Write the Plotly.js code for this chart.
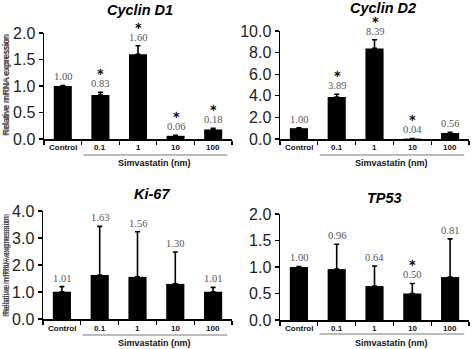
<!DOCTYPE html>
<html><head><meta charset="utf-8">
<script src="https://cdn.plot.ly/plotly-3.0.1.min.js"></script>
<style>html,body{margin:0;padding:0;background:#fff}#c{width:474px;height:349px}</style>
</head><body><div id="c"></div>
<script>
var categories = ["Control", "0.1", "1", "10", "100"];
var titles = ["Cyclin D1", "Cyclin D2", "Ki-67", "TP53"];
var d1Values = [1.00, 0.83, 1.60, 0.06, 0.18];
var d1Errors = [0.01, 0.05, 0.16, 0.01, 0.02];
var d1Sig = [false, true, true, true, true];
var d2Values = [1.00, 3.89, 8.39, 0.04, 0.56];
var d2Errors = [0.04, 0.25, 0.80, 0.01, 0.05];
var d2Sig = [false, true, true, true, false];
var kiValues = [1.01, 1.63, 1.56, 1.30, 1.01];
var kiErrors = [0.19, 1.80, 1.67, 1.18, 0.16];
var kiSig = [false, false, false, false, false];
var tpValues = [1.00, 0.96, 0.64, 0.50, 0.81];
var tpErrors = [0.01, 0.47, 0.38, 0.19, 0.72];
var tpSig = [false, false, false, true, false];
var yRanges = [[0, 2], [0, 10], [0, 4], [0, 2]];
var yDtick = [0.5, 2, 1, 0.5];

var panels = [
  {v: d1Values, e: d1Errors, s: d1Sig, x: [44, 232], y: [33, 139], title: [140, 10], cat: 147, line: 155, simv: 163},
  {v: d2Values, e: d2Errors, s: d2Sig, x: [280, 469], y: [31, 139], title: [383, 8.5], cat: 147, line: 155, simv: 163},
  {v: kiValues, e: kiErrors, s: kiSig, x: [43, 232], y: [211, 319], title: [152, 194], cat: 328, line: 335, simv: 343},
  {v: tpValues, e: tpErrors, s: tpSig, x: [280, 469], y: [214, 320], title: [384, 198], cat: 328, line: 334, simv: 343}
];
var W = 474, H = 349;
var data = [], annotations = [], shapes = [];
var layout = {width: W, height: H, margin: {l: 0, r: 0, t: 0, b: 0}, showlegend: false,
  paper_bgcolor: "#fff", plot_bgcolor: "#fff", bargap: 0.52,
  font: {family: "Liberation Sans, Arial, sans-serif", color: "#111"}};
panels.forEach(function (p, i) {
  var n = i + 1, sfx = (n === 1 ? "" : String(n));
  data.push({type: "bar", x: categories, y: p.v, xaxis: "x" + sfx, yaxis: "y" + sfx,
    marker: {color: "#000"},
    error_y: {type: "data", array: p.e, symmetric: false, arrayminus: p.e.map(function(){return 0;}),
      color: "#000", thickness: 1.6, width: 2.5}});
  layout["xaxis" + sfx] = {domain: [p.x[0] / W, p.x[1] / W], anchor: "y" + sfx,
    type: "category", range: [-0.5, 4.5], showline: true, linecolor: "#000", linewidth: 1.5,
    ticks: "outside", tickson: "boundaries", ticklen: 4, tickwidth: 1.3, tickcolor: "#000",
    showticklabels: false, showgrid: false, zeroline: false, fixedrange: true};
  layout["yaxis" + sfx] = {domain: [1 - p.y[1] / H, 1 - p.y[0] / H], anchor: "x" + sfx,
    range: yRanges[i], dtick: yDtick[i], tick0: 0, tickformat: ".1f", showline: true,
    linecolor: "#000", linewidth: 1.5, ticks: "outside", ticklen: 4, tickwidth: 1.3, tickcolor: "#000",
    tickfont: {size: 16, color: "#222", family: "Liberation Sans, Arial, sans-serif"},
    showgrid: false, zeroline: false, fixedrange: true};
  annotations.push({xref: "paper", yref: "paper", x: p.title[0] / W, y: 1 - p.title[1] / H,
    text: "<b><i>" + titles[i] + "</i></b>", showarrow: false, xanchor: "center", yanchor: "middle",
    font: {size: 14.5, color: "#000", family: "Liberation Sans, Arial, sans-serif"}});
  annotations.push({xref: "paper", yref: "paper", x: 6 / W, y: 1 - ((p.y[0] + p.y[1]) / 2) / H,
    text: "Relative mRNA expression", textangle: -90, showarrow: false, xanchor: "center", yanchor: "middle",
    font: {size: 8.5, color: "#444"}});
  categories.forEach(function (c, k) {
    annotations.push({xref: "x" + sfx, yref: "paper", x: k, y: 1 - p.cat / H,
      text: "<b>" + c + "</b>", showarrow: false, xanchor: "center", yanchor: "middle",
      font: {size: 8, color: "#111"}});
    var top = p.v[k] + p.e[k];
    var label = "<span style='font-size:10.5px'>" + p.v[k].toFixed(2) + "</span>";
    if (p.s[k]) {
      label = "<span style='font-family:DejaVu Sans, sans-serif;font-size:10px;color:#111'><b>\u2217</b></span><br>" + label;
    }
    annotations.push({xref: "x" + sfx, yref: "y" + sfx, x: k, y: top,
      yshift: 1, text: label, showarrow: false, xanchor: "center", yanchor: "bottom",
      font: {size: 9.1, color: "#555", family: "Liberation Serif, serif"}});
  });
  var w = p.x[1] - p.x[0];
  shapes.push({type: "line", xref: "paper", yref: "paper",
    x0: (p.x[0] + w * 0.21) / W, x1: (p.x[0] + w * 0.975) / W,
    y0: 1 - p.line / H, y1: 1 - p.line / H, line: {color: "#777", width: 1}});
  annotations.push({xref: "paper", yref: "paper", x: (p.x[0] + w * 0.59) / W, y: 1 - p.simv / H,
    text: "<b>Simvastatin (nm)</b>", showarrow: false, xanchor: "center", yanchor: "middle",
    font: {size: 9, color: "#111"}});
});
layout.annotations = annotations;
layout.shapes = shapes;
Plotly.newPlot("c", data, layout, {staticPlot: true, displayModeBar: false});
</script></body></html>
